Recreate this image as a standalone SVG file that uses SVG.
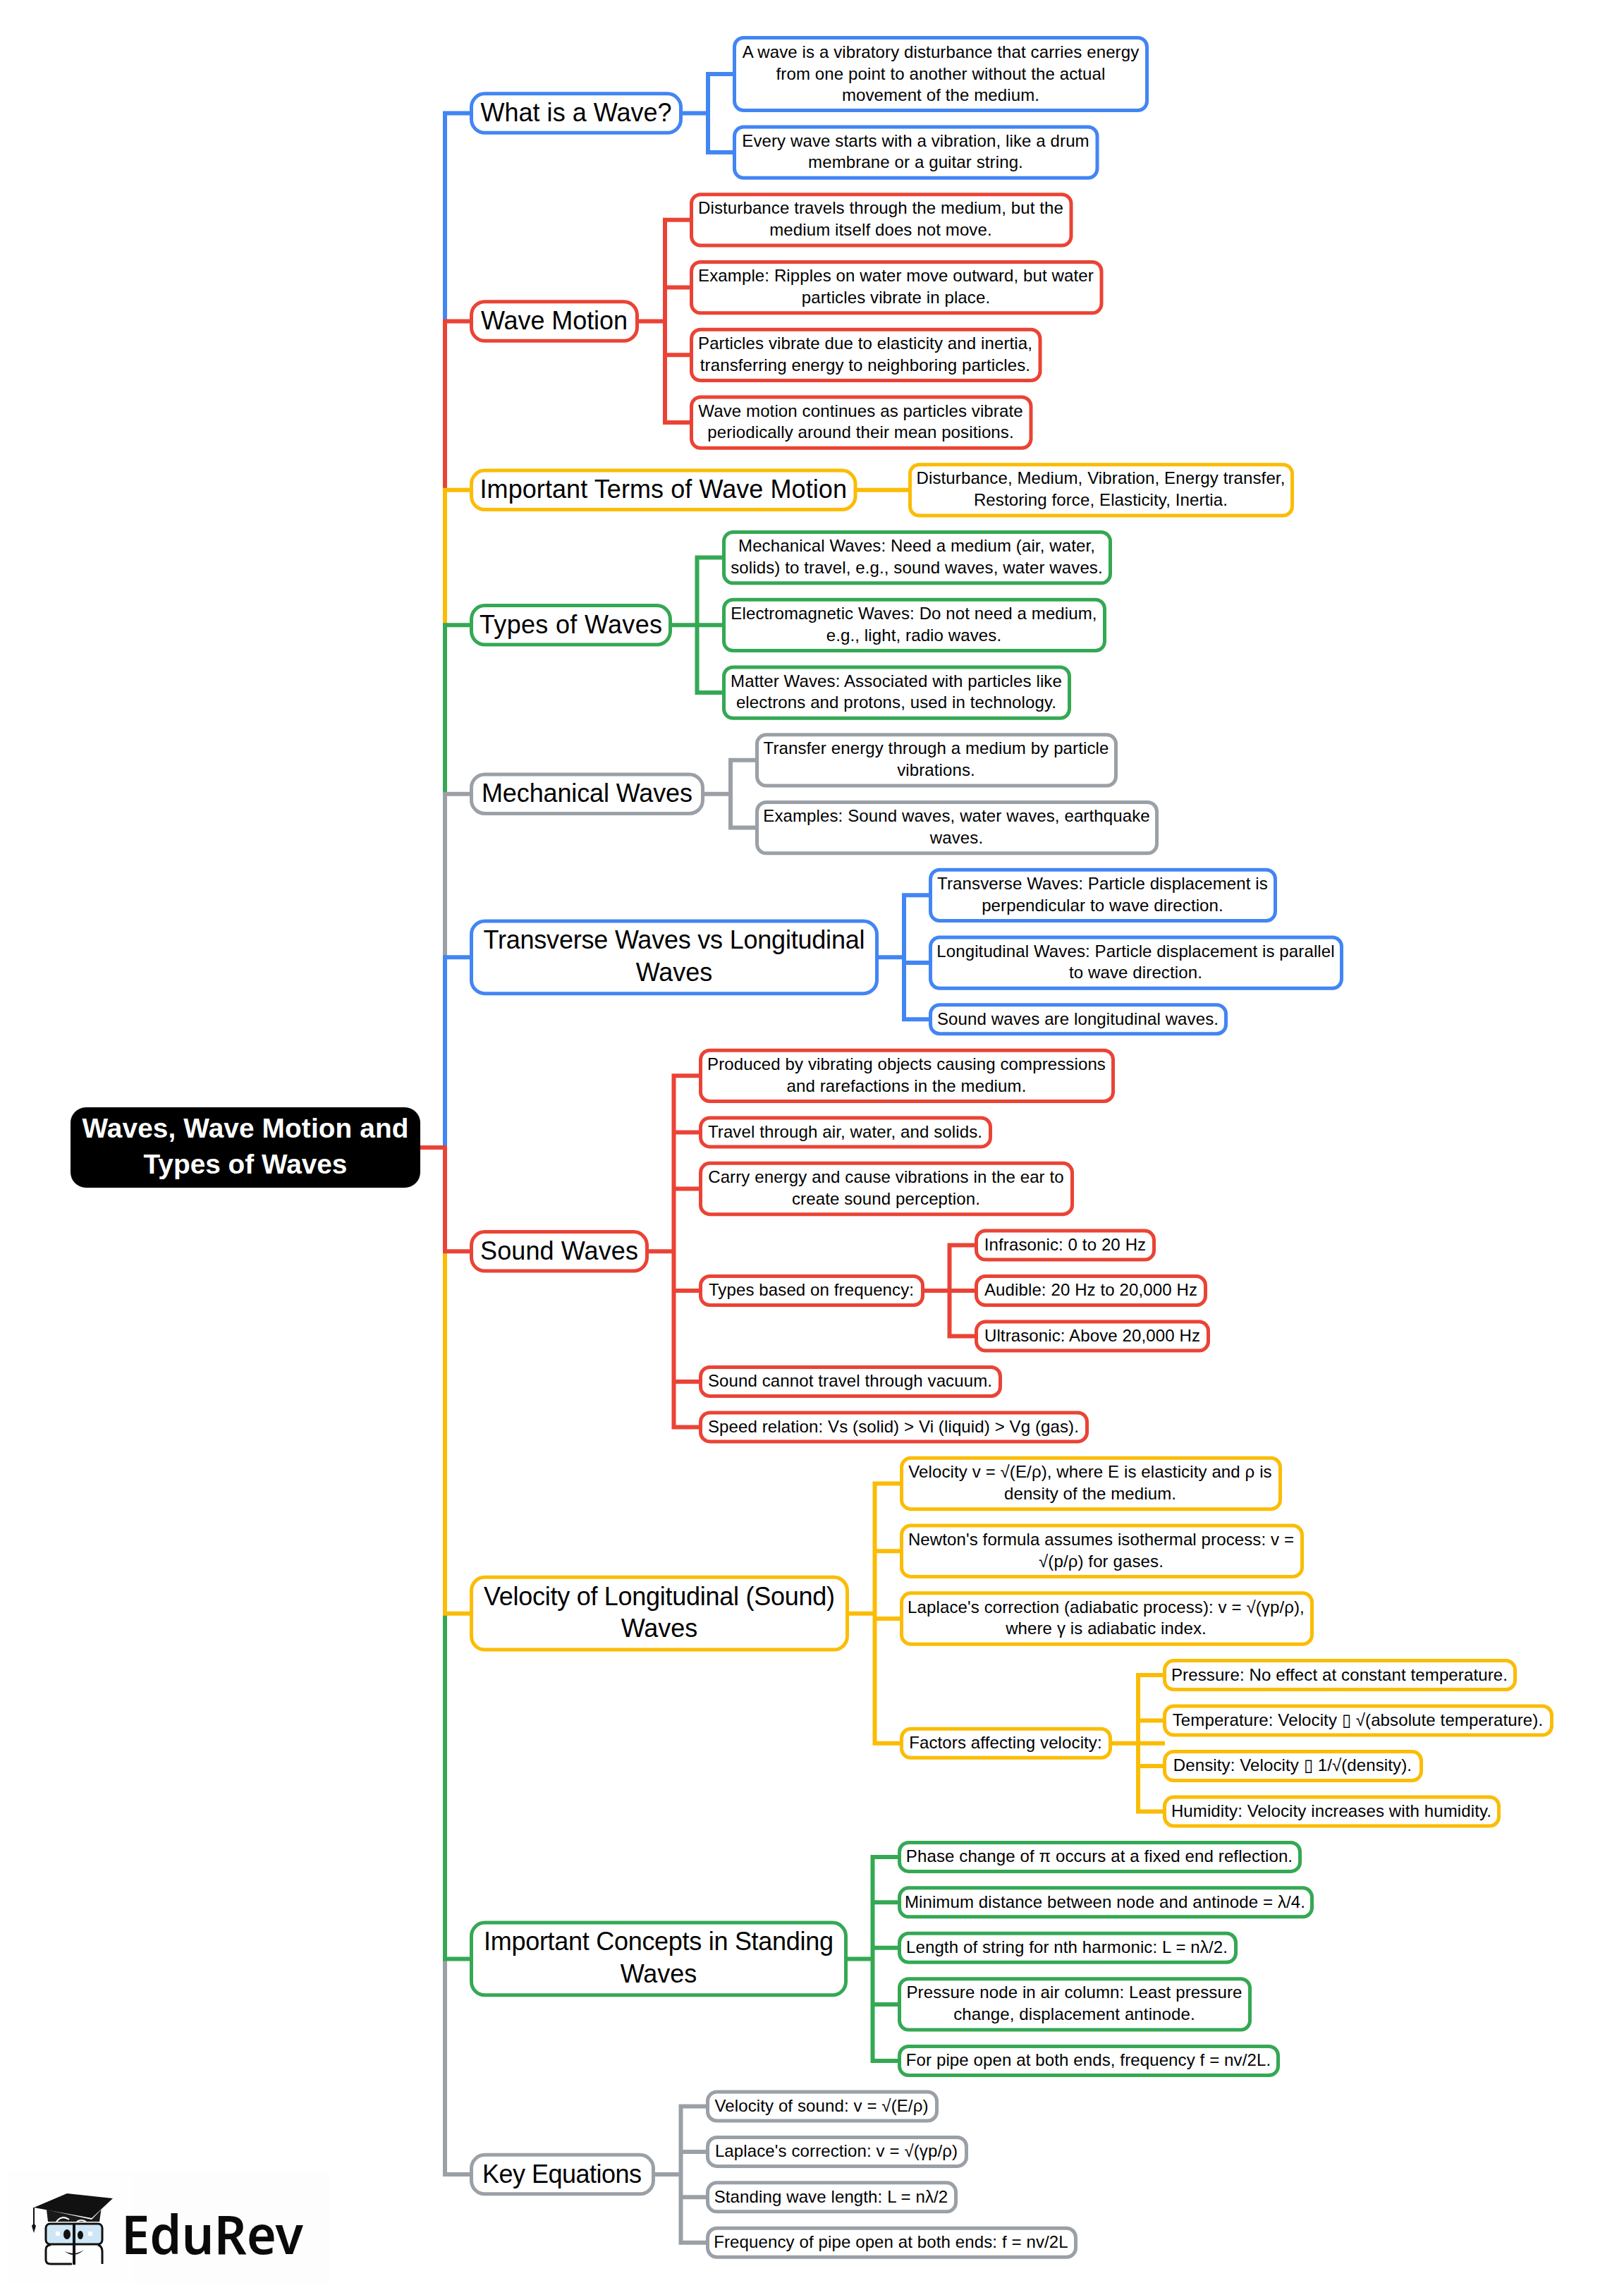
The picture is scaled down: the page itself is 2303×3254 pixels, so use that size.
<svg xmlns="http://www.w3.org/2000/svg" width="2303" height="3254" viewBox="0 0 2303 3254">
<style>
text{font-family:"Liberation Sans",Arial,sans-serif;text-anchor:middle;fill:#000}
.n rect{fill:#fff;stroke-width:5}
.leaf rect{rx:13px}
.main rect{rx:19px}
.leaf text{font-size:24px;letter-spacing:.12px}
.main text{font-size:36px}
.b rect{stroke:#4285F4}.r rect{stroke:#EA4335}.y rect{stroke:#FBBC05}.g rect{stroke:#34A853}.a rect{stroke:#9AA0A6}
#connectors path{fill:none;stroke-width:6;stroke-linejoin:miter}
.cb{stroke:#4285F4}.cr{stroke:#EA4335}.cy{stroke:#FBBC05}.cg{stroke:#34A853}.ca{stroke:#9AA0A6}
</style>
<g id="connectors">
<path class="cb" d="M596 1627H631V160.600H668"/>
<path class="cr" d="M596 1627H631V455.500H668"/>
<path class="cy" d="M596 1627H631V694.850H668"/>
<path class="cg" d="M596 1627H631V886.350H668"/>
<path class="ca" d="M596 1627H631V1125.700H668"/>
<path class="cb" d="M596 1627H631V1357.300H668"/>
<path class="ca" d="M596 1627H631V3083.100H668"/>
<path class="cg" d="M596 1627H631V2777.450H668"/>
<path class="cy" d="M596 1627H631V2287.650H668"/>
<path class="cr" d="M596 1627H631V1774.350H668"/>
<path class="cb" d="M966 160.600H1004M1042 105H1004V216.100H1042"/>
<path class="cr" d="M904 455.500H943M981 311.850H943V599.100H981M943 407.600H981M943 503.350H981"/>
<path class="cy" d="M1213 694.850H1291"/>
<path class="cg" d="M951 886.350H1027M1027 790.600H988.500V982.100H1027"/>
<path class="ca" d="M997 1125.700H1036M1074 1077.850H1036V1173.600H1074"/>
<path class="cb" d="M1244 1357.300H1282M1320 1269.350H1282V1445.200H1320M1282 1365.100H1320"/>
<path class="cr" d="M918 1774.350H955.500M994 1525.300H955.500V2023.400H994M955.500 1605.400H994M955.500 1685.500H994M955.500 1830.050H994M955.500 1958.950H994"/>
<path class="cr" d="M1309 1830.050H1385M1385 1765.600H1346.500V1894.500H1385"/>
<path class="cy" d="M1202 2287.650H1240.500M1279 2103.500H1240.500V2471.800H1279M1240.500 2199.250H1279M1240.500 2295H1279"/>
<path class="cy" d="M1575 2471.800H1652M1652 2375.100H1614V2568.450H1652M1614 2439.550H1652M1614 2504H1652"/>
<path class="cg" d="M1200 2777.450H1237.500M1276 2632.900H1237.500V2922H1276M1237.500 2697.350H1276M1237.500 2761.800H1276M1237.500 2841.900H1276"/>
<path class="ca" d="M927 3083.100H965.500M1004 2986.450H965.500V3179.800H1004M965.500 3050.900H1004M965.500 3115.350H1004"/>
</g>
<g id="root"><rect x="100" y="1570" width="496" height="114" rx="22" fill="#000"/><text x="348" y="1613" font-size="38.800" font-weight="700" textLength="463" style="fill:#fff">Waves, Wave Motion and</text><text x="348" y="1664" font-size="38.800" font-weight="700" style="fill:#fff">Types of Waves</text></g>

<g id="n-what" class="n main b"><rect x="668.500" y="132.850" width="297" height="55.500"/><text x="817" y="172.100" textLength="271">What is a Wave?</text></g>
<g id="n-what-1" class="n leaf b"><rect x="1041.500" y="53.500" width="585" height="103"/><text x="1334" y="81.700">A wave is a vibratory disturbance that carries energy</text><text x="1334" y="112.500">from one point to another without the actual</text><text x="1334" y="143.300">movement of the medium.</text></g>
<g id="n-what-2" class="n leaf b"><rect x="1041.500" y="179.950" width="514.500" height="72.300"/><text x="1298.500" y="207.600">Every wave starts with a vibration, like a drum</text><text x="1298.500" y="238.400">membrane or a guitar string.</text></g>

<g id="n-motion" class="n main r"><rect x="668.500" y="427.750" width="235" height="55.500"/><text x="786" y="467" textLength="208">Wave Motion</text></g>
<g id="n-motion-1" class="n leaf r"><rect x="980.500" y="275.700" width="538.500" height="72.300"/><text x="1249" y="303.350">Disturbance travels through the medium, but the</text><text x="1249" y="334.150">medium itself does not move.</text></g>
<g id="n-motion-2" class="n leaf r"><rect x="980.500" y="371.450" width="581.500" height="72.300"/><text x="1270.500" y="399.100">Example: Ripples on water move outward, but water</text><text x="1270.500" y="429.900">particles vibrate in place.</text></g>
<g id="n-motion-3" class="n leaf r"><rect x="980.500" y="467.200" width="494.500" height="72.300"/><text x="1227" y="494.850">Particles vibrate due to elasticity and inertia,</text><text x="1227" y="525.650">transferring energy to neighboring particles.</text></g>
<g id="n-motion-4" class="n leaf r"><rect x="980.500" y="562.950" width="481.500" height="72.300"/><text x="1220.500" y="590.600">Wave motion continues as particles vibrate</text><text x="1220.500" y="621.400">periodically around their mean positions.</text></g>

<g id="n-terms" class="n main y"><rect x="668.500" y="667.100" width="544.500" height="55.500"/><text x="940.750" y="706.400" textLength="520.500">Important Terms of Wave Motion</text></g>
<g id="n-terms-1" class="n leaf y"><rect x="1290.500" y="658.700" width="542" height="72.300"/><text x="1561" y="686.350">Disturbance, Medium, Vibration, Energy transfer,</text><text x="1561" y="717.150">Restoring force, Elasticity, Inertia.</text></g>

<g id="n-types" class="n main g"><rect x="668.500" y="858.600" width="282" height="55.500"/><text x="809.500" y="897.850" textLength="259">Types of Waves</text></g>
<g id="n-types-1" class="n leaf g"><rect x="1026.500" y="754.450" width="548" height="72.300"/><text x="1300" y="782.100">Mechanical Waves: Need a medium (air, water,</text><text x="1300" y="812.900">solids) to travel, e.g., sound waves, water waves.</text></g>
<g id="n-types-2" class="n leaf g"><rect x="1026.500" y="850.200" width="540" height="72.300"/><text x="1296" y="877.850">Electromagnetic Waves: Do not need a medium,</text><text x="1296" y="908.650">e.g., light, radio waves.</text></g>
<g id="n-types-3" class="n leaf g"><rect x="1026.500" y="945.950" width="490" height="72.300"/><text x="1271" y="973.600">Matter Waves: Associated with particles like</text><text x="1271" y="1004.400">electrons and protons, used in technology.</text></g>

<g id="n-mech" class="n main a"><rect x="668.500" y="1097.950" width="328" height="55.500"/><text x="832.500" y="1137.200" textLength="299">Mechanical Waves</text></g>
<g id="n-mech-1" class="n leaf a"><rect x="1073.500" y="1041.700" width="509" height="72.300"/><text x="1327.500" y="1069.350">Transfer energy through a medium by particle</text><text x="1327.500" y="1100.150">vibrations.</text></g>
<g id="n-mech-2" class="n leaf a"><rect x="1073.500" y="1137.450" width="567" height="72.300"/><text x="1356.500" y="1165.100">Examples: Sound waves, water waves, earthquake</text><text x="1356.500" y="1195.900">waves.</text></g>

<g id="n-trans" class="n main b"><rect x="668.500" y="1305.950" width="575" height="102.700"/><text x="956" y="1345.300" textLength="541">Transverse Waves vs Longitudinal</text><text x="956" y="1390.500">Waves</text></g>
<g id="n-trans-1" class="n leaf b"><rect x="1319.500" y="1233.200" width="489" height="72.300"/><text x="1563.500" y="1260.850">Transverse Waves: Particle displacement is</text><text x="1563.500" y="1291.650">perpendicular to wave direction.</text></g>
<g id="n-trans-2" class="n leaf b"><rect x="1319.500" y="1328.950" width="583" height="72.300"/><text x="1610.500" y="1356.600">Longitudinal Waves: Particle displacement is parallel</text><text x="1610.500" y="1387.400">to wave direction.</text></g>
<g id="n-trans-3" class="n leaf b"><rect x="1319.500" y="1424.700" width="419" height="41"/><text x="1528.500" y="1452.600">Sound waves are longitudinal waves.</text></g>

<g id="n-sound" class="n main r"><rect x="668.500" y="1746.600" width="249" height="55.500"/><text x="793" y="1785.850" textLength="224">Sound Waves</text></g>
<g id="n-sound-1" class="n leaf r"><rect x="993.500" y="1489.150" width="585" height="72.300"/><text x="1285.500" y="1516.800">Produced by vibrating objects causing compressions</text><text x="1285.500" y="1547.600">and rarefactions in the medium.</text></g>
<g id="n-sound-2" class="n leaf r"><rect x="993.500" y="1584.900" width="411" height="41"/><text x="1198.500" y="1612.800">Travel through air, water, and solids.</text></g>
<g id="n-sound-3" class="n leaf r"><rect x="993.500" y="1649.350" width="527" height="72.300"/><text x="1256.500" y="1677">Carry energy and cause vibrations in the ear to</text><text x="1256.500" y="1707.800">create sound perception.</text></g>
<g id="n-sound-4" class="n leaf r"><rect x="993.500" y="1809.550" width="315" height="41"/><text x="1150.500" y="1837.450">Types based on frequency:</text></g>
<g id="n-sound-4a" class="n leaf r"><rect x="1384.500" y="1745.100" width="252" height="41"/><text x="1510.500" y="1773">Infrasonic: 0 to 20 Hz</text></g>
<g id="n-sound-4b" class="n leaf r"><rect x="1384.500" y="1809.550" width="325" height="41"/><text x="1547" y="1837.450">Audible: 20 Hz to 20,000 Hz</text></g>
<g id="n-sound-4c" class="n leaf r"><rect x="1384.500" y="1874" width="329" height="41"/><text x="1549" y="1901.900">Ultrasonic: Above 20,000 Hz</text></g>
<g id="n-sound-5" class="n leaf r"><rect x="993.500" y="1938.450" width="425" height="41"/><text x="1205.500" y="1966.350">Sound cannot travel through vacuum.</text></g>
<g id="n-sound-6" class="n leaf r"><rect x="993.500" y="2002.900" width="548" height="41"/><text x="1267" y="2030.800">Speed relation: Vs (solid) &gt; Vi (liquid) &gt; Vg (gas).</text></g>

<g id="n-vel" class="n main y"><rect x="668.500" y="2236.300" width="533" height="102.700"/><text x="935" y="2275.650" textLength="498">Velocity of Longitudinal (Sound)</text><text x="935" y="2320.850">Waves</text></g>
<g id="n-vel-1" class="n leaf y"><rect x="1278.500" y="2067.350" width="537" height="72.300"/><text x="1546" y="2095">Velocity v = √(E/ρ), where E is elasticity and ρ is</text><text x="1546" y="2125.800">density of the medium.</text></g>
<g id="n-vel-2" class="n leaf y"><rect x="1278.500" y="2163.100" width="568" height="72.300"/><text x="1561.500" y="2190.750">Newton's formula assumes isothermal process: v =</text><text x="1561.500" y="2221.550">√(p/ρ) for gases.</text></g>
<g id="n-vel-3" class="n leaf y"><rect x="1278.500" y="2258.850" width="582" height="72.300"/><text x="1568.500" y="2286.500">Laplace's correction (adiabatic process): v = √(γp/ρ),</text><text x="1568.500" y="2317.300">where γ is adiabatic index.</text></g>
<g id="n-vel-4" class="n leaf y"><rect x="1278.500" y="2451.300" width="296" height="41"/><text x="1426" y="2479.200">Factors affecting velocity:</text></g>
<g id="n-vel-4a" class="n leaf y"><rect x="1651.500" y="2354.600" width="497" height="41"/><text x="1899.500" y="2382.500">Pressure: No effect at constant temperature.</text></g>
<g id="n-vel-4b" class="n leaf y"><rect x="1651.500" y="2419.050" width="549" height="41"/><text x="1925.500" y="2446.950">Temperature: Velocity ▯ √(absolute temperature).</text></g>
<g id="n-vel-4c" class="n leaf y"><rect x="1651.500" y="2483.500" width="364" height="41"/><text x="1833" y="2511.400">Density: Velocity ▯ 1/√(density).</text></g>
<g id="n-vel-4d" class="n leaf y"><rect x="1651.500" y="2547.950" width="474" height="41"/><text x="1888" y="2575.850">Humidity: Velocity increases with humidity.</text></g>

<g id="n-conc" class="n main g"><rect x="668.500" y="2726.100" width="531" height="102.700"/><text x="934" y="2765.450" textLength="496">Important Concepts in Standing</text><text x="934" y="2810.650">Waves</text></g>
<g id="n-conc-1" class="n leaf g"><rect x="1275.500" y="2612.400" width="568" height="41"/><text x="1559" y="2640.300">Phase change of π occurs at a fixed end reflection.</text></g>
<g id="n-conc-2" class="n leaf g"><rect x="1275.500" y="2676.850" width="585" height="41"/><text x="1567" y="2704.750">Minimum distance between node and antinode = λ/4.</text></g>
<g id="n-conc-3" class="n leaf g"><rect x="1275.500" y="2741.300" width="477" height="41"/><text x="1513" y="2769.200">Length of string for nth harmonic: L = nλ/2.</text></g>
<g id="n-conc-4" class="n leaf g"><rect x="1275.500" y="2805.750" width="497" height="72.300"/><text x="1523.500" y="2833.400">Pressure node in air column: Least pressure</text><text x="1523.500" y="2864.200">change, displacement antinode.</text></g>
<g id="n-conc-5" class="n leaf g"><rect x="1275.500" y="2901.500" width="537" height="41"/><text x="1543.500" y="2929.400">For pipe open at both ends, frequency f = nv/2L.</text></g>

<g id="n-key" class="n main a"><rect x="668.500" y="3055.350" width="258" height="55.500"/><text x="797" y="3094.600" textLength="226">Key Equations</text></g>
<g id="n-key-1" class="n leaf a"><rect x="1003.500" y="2965.950" width="325" height="41"/><text x="1165" y="2993.850">Velocity of sound: v = √(E/ρ)</text></g>
<g id="n-key-2" class="n leaf a"><rect x="1003.500" y="3030.400" width="367" height="41"/><text x="1186" y="3058.300">Laplace's correction: v = √(γp/ρ)</text></g>
<g id="n-key-3" class="n leaf a"><rect x="1003.500" y="3094.850" width="352" height="41"/><text x="1178.500" y="3122.750">Standing wave length: L = nλ/2</text></g>
<g id="n-key-4" class="n leaf a"><rect x="1003.500" y="3159.300" width="522" height="41"/><text x="1263.500" y="3187.200">Frequency of pipe open at both ends: f = nv/2L</text></g>

<g id="logo">
<rect x="10" y="3078" width="457" height="159" fill="#fefefe"/>
<rect x="188" y="3083" width="279" height="154" fill="#fdfdfd"/>
<path d="M66 3133L130 3147L143.500 3133L141 3150H68Z" fill="#1a1a1a"/>
<path d="M48 3130L95 3110L160 3117L130 3145Z" fill="#111"/>
<path d="M48 3130V3153" stroke="#111" stroke-width="2" fill="none"/>
<path d="M45 3156L48 3152L51 3156L48 3166Z" fill="#111"/>
<path d="M80 3150Q88 3140 98 3147M109 3150Q115 3146 122 3150" stroke="#fff" stroke-width="2" fill="none"/>
<rect x="65" y="3153" width="80" height="29" rx="6" fill="#cfe6f6" stroke="#111" stroke-width="3"/>
<path d="M72 3183Q65 3183 65 3190V3204Q65 3210 72 3210H102M139 3183Q145 3185 145 3192V3210" stroke="#111" stroke-width="3" fill="none"/>
<path d="M105 3152V3211" stroke="#111" stroke-width="4" fill="none"/>
<ellipse cx="95" cy="3168" rx="5" ry="7" fill="#111"/><ellipse cx="114" cy="3169" rx="4" ry="6" fill="#111"/>
<rect x="79" y="3164" width="6" height="6" fill="#fff"/><rect x="125" y="3164" width="6" height="6" fill="#fff"/>
<path d="M92 3192Q105 3199 119 3190Q105 3203 92 3192Z" fill="#111"/>
<text x="172" y="3196" font-size="76" font-weight="600" textLength="258" lengthAdjust="spacingAndGlyphs" style="font-family:'Noto Sans',sans-serif;text-anchor:start;fill:#0a0a0a">EduRev</text>
</g>
</svg>
